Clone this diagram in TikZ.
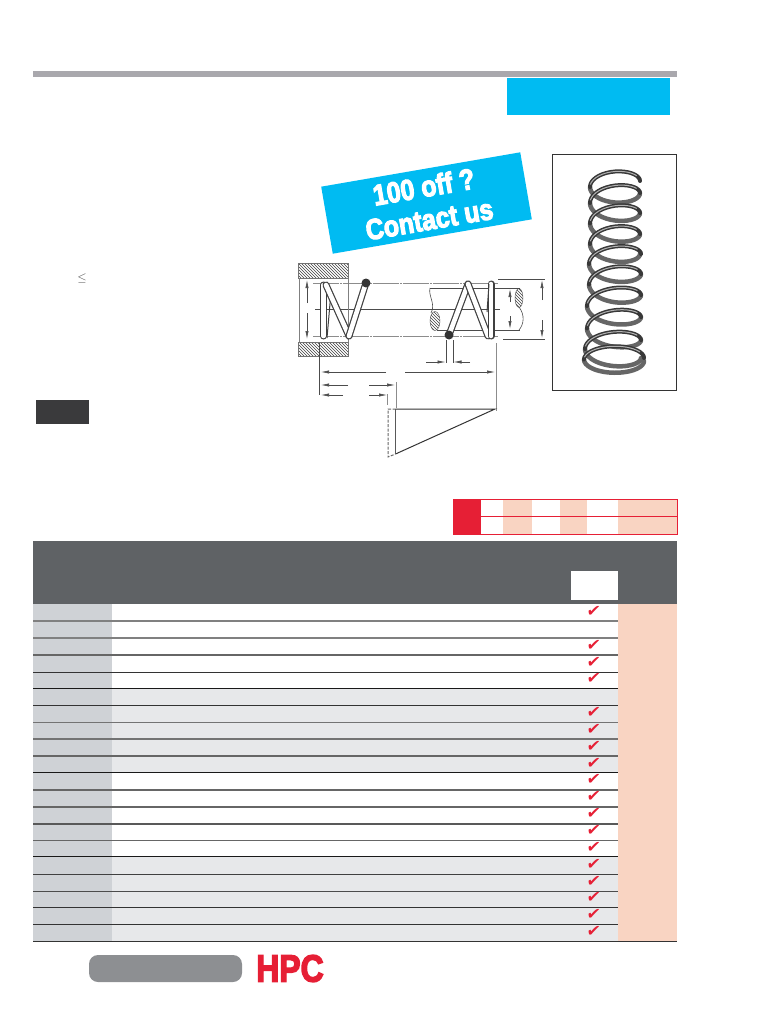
\documentclass[tikz,border=0pt]{standalone}
\usepackage{fontspec}
\usepackage{amsmath}
\usetikzlibrary{patterns,arrows.meta}
\newfontfamily\headfont[FakeBold=4]{Liberation Sans Bold}
\newfontfamily\symfont{DejaVu Sans}
\definecolor{cyanbox}{HTML}{00BBF2}
\definecolor{rulegrey}{HTML}{A9A8AD}
\definecolor{headgrey}{HTML}{5F6265}
\definecolor{peach}{HTML}{F9D4C2}
\definecolor{redbox}{HTML}{E61F35}
\definecolor{cellgrey}{HTML}{CFD2D6}
\definecolor{rowgrey}{HTML}{E7E8EA}
\definecolor{pillgrey}{HTML}{8D8F92}
\definecolor{darkbox}{HTML}{3A3A3C}
\tikzset{
  filled/.style={draw=none,fill=#1,inner sep=0pt,outer sep=0pt},
  tick/.style={text=redbox,font=\symfont\fontsize{16}{16}\selectfont,inner sep=0pt,xslant=0.15},
  dim/.style={draw=black!70,line width=0.6pt},
  arrowdim/.style={dim,-{Latex[length=8pt,width=3.2pt]}},
  centre/.style={draw=black!45,line width=0.9pt,dash pattern=on 26pt off 1pt on 2pt off 1pt},
  tube/.style={draw=black!75,line width=1.2pt,double=white,double distance=4.6pt,line cap=round},
  seat/.style={pattern=north west lines,pattern color=black!75},
  backcoil/.style={draw=black!60,line width=4.5pt,line cap=round},
  frontcoil/.style={draw=black!78,line width=4pt,line cap=round},
  coilshine/.style={draw=white!70!black,line width=1pt}
}
\begin{document}
\begin{tikzpicture}[x=1pt,y=-1pt]
  \useasboundingbox (0,0) rectangle (768,1024);

  % header
  \fill[rulegrey] (33,71) rectangle (677,77);
  \fill[cyanbox] (507,78) rectangle (670,115);
  \node[filled=darkbox,minimum width=53.5pt,minimum height=23.5pt,anchor=north west] (tag) at (35.5,400) {};
  \node[inner sep=0pt,text=black!70,font=\fontsize{13}{13}\selectfont] (leq) at (82,278) {$\leq$};

  % banner
  \node[filled=cyanbox,rotate=9.8,minimum width=202pt,minimum height=68pt,align=center,text=white,
    font=\headfont\fontsize{29}{33}\selectfont] (banner) at (426.5,203) {\scalebox{.86}[1]{100 off ?}\\\scalebox{.86}[1]{Contact us}};

  % photo of spring
  \node[draw=black!80,line width=0.8pt,minimum width=124pt,minimum height=236pt,inner sep=0pt,outer sep=0pt,anchor=north west] (photo) at (552.5,154) {};
  \foreach \yi/\yn/\xc/\rx in {181/193/615/25,193/213/615/25,213/234/615/25,234/254/615/25,254/274/615/26,274/295/615/26,295/317/614/27,317/340/614/27,340/358/613/28,358/361/614/30}{
    \draw[backcoil] plot[domain=180:360,smooth,samples=19] ({\xc+\rx*cos(\x)},{\yi+(\yn-\yi)*\x/360-12.5*sin(\x)});
  }
  \foreach \yi/\yn/\xc/\rx in {181/193/615/25,193/213/615/25,213/234/615/25,234/254/615/25,254/274/615/26,274/295/615/26,295/317/614/27,317/340/614/27,340/358/613/28,358/361/614/30}{
    \draw[frontcoil] plot[domain=0:180,smooth,samples=19] ({\xc+\rx*cos(\x)},{\yi+(\yn-\yi)*\x/360-12.5*sin(\x)});
    \draw[coilshine] plot[domain=30:170,smooth,samples=15] ({\xc+\rx*cos(\x)},{\yi+(\yn-\yi)*\x/360-12.5*sin(\x)});
  }

  % centre lines
  \coordinate (ta) at (313,283);
  \coordinate (tb) at (498,283);
  \coordinate (ca) at (315,309.5);
  \coordinate (cb) at (500,309.5);
  \coordinate (ba) at (313,336);
  \coordinate (bb) at (498,336);
  \draw[centre] (ta) -- (tb);
  \draw[centre] (ba) -- (bb);
  \draw[dim] (ca) -- (cb);

  % seat blocks
  \fill[seat] (298,263.5) rectangle (348,278);
  \draw[black!55] (298,263.5) rectangle (348,278);
  \fill[seat] (298,342) rectangle (348,356.5);
  \draw[black!55] (298,342) rectangle (348,356.5);
  \draw[black!50] (299,278) -- (299,342) (348,278) -- (348,342);

  % left coil
  \draw[black!75,line width=1pt] (327,338) -- (331,292);
  \draw[tube] (323.5,285) -- (323.5,336);
  \draw[tube] (326,285) -- (349,336);
  \draw[tube] (349,336) -- (365,286);
  \node[circle,fill=black!80,minimum size=9pt,inner sep=0pt] (leftend) at (366,283) {};

  % shaft
  \draw[dim] (430,288) -- (520,288) (437,330) -- (520,330);
  \draw[dim] (430,288) .. controls (428,296) and (436,304) .. (431,313);
  \draw[dim] (519,307) .. controls (525,315) and (524,324) .. (519,330);
  \fill[seat] (435,321) ellipse (5 and 9.5);
  \draw[black!70] (435,321) ellipse (5 and 9.5);
  \fill[seat] (519,298) ellipse (4 and 9.5);
  \draw[black!70] (519,298) ellipse (4 and 9.5);

  % right coil
  \draw[tube] (449,335) -- (468,284);
  \draw[tube] (468,284) -- (488,336);
  \draw[tube] (491,284) -- (491,336);
  \draw[black!75,line width=1pt] (487,312) -- (489,284);
  \node[circle,fill=black!80,minimum size=9pt,inner sep=0pt] (rightend) at (449,335) {};

  % dimension arrows
  \coordinate (da) at (307,280); \coordinate (db) at (307,339);
  \coordinate (dc) at (307,303); \coordinate (dd) at (307,313);
  \draw[arrowdim] (dc) -- (da);
  \draw[arrowdim] (dd) -- (db);
  \coordinate (ea) at (510,289); \coordinate (eb) at (510,329);
  \coordinate (ec) at (510,302); \coordinate (ed) at (510,316);
  \draw[arrowdim] (ec) -- (ea);
  \draw[arrowdim] (ed) -- (eb);
  \coordinate (fa) at (542,280); \coordinate (fb) at (542,338);
  \coordinate (fc) at (542,300); \coordinate (fd) at (542,320);
  \draw[arrowdim] (fc) -- (fa);
  \draw[arrowdim] (fd) -- (fb);
  \draw[dim] (498,279) -- (545,279) (503,339) -- (545,339);

  % wire size
  \draw[dim] (446,340) -- (446,363) (453,340) -- (453,363);
  \coordinate (wa) at (426,362); \coordinate (wb) at (470,362);
  \draw[arrowdim] (wa) -- (445.5,362);
  \draw[arrowdim] (wb) -- (453.5,362);

  % lengths
  \coordinate (la) at (321,372); \coordinate (lb) at (495,372);
  \draw[dim] (319,343) -- (319,395);
  \draw[arrowdim] (386,372) -- (la);
  \draw[arrowdim] (405,372) -- (lb);
  \draw[arrowdim] (348,385) -- (321,385);
  \draw[arrowdim] (369,385) -- (395,385);
  \draw[arrowdim] (343,395) -- (321,395);
  \draw[arrowdim] (369,395) -- (387,395);
  \draw[draw=black!45,line width=0.9pt] (496,343) -- (496,411);
  \draw[draw=black!45,line width=0.9pt] (396,382) -- (396,408);
  \draw[draw=black!45,line width=0.9pt] (387.5,394) -- (387.5,405);

  % load triangle
  \coordinate (ga) at (395.5,409);
  \coordinate (gb) at (495,409);
  \coordinate (gc) at (395.5,454);
  \coordinate (ha) at (388,409);
  \coordinate (hc) at (388,457);
  \draw[draw=black!60,line width=1pt,dash pattern=on 3pt off 1.5pt] (ga) -- (ha) -- (hc) -- (gc);
  \draw[black!80,line width=1pt] (ga) -- (gb) -- (gc);
  \draw[black!65,line width=1.5pt] (ga) -- (gc);

  % small table
  \fill[redbox] (453,499) rectangle (481,534);
  \foreach \xa/\xb in {503/532,560/587,618/677}{
    \fill[peach] (\xa,499) rectangle (\xb,534);
  }
  \draw[redbox,line width=1pt] (453,499) rectangle (677,534);
  \draw[redbox,line width=1pt] (481,516) -- (677,516);

  % main table head
  \fill[headgrey] (33,541) rectangle (677,603.5);
  \fill[white] (571,571) rectangle (618,599.5);

  % rows
  \fill[peach] (618,603.5) rectangle (677,941);
  \fill[cellgrey] (33,603.5) rectangle (112,941);
  \fill[rowgrey] (112,689) rectangle (618,773);
  \fill[rowgrey] (112,857) rectangle (618,941);
  \foreach \yy/\shade/\wd in {621/50/1.3,638/50/1.3,655/60/1.1,672/80/0.9,688.5/90/1.4,705.5/80/1,722.5/55/1.2,739/55/1.2,756/60/1.2,772.5/90/1.4,790/60/1.1,807/60/1.1,824/65/1.1,840.5/60/1.1,856.5/90/1.3,874/75/1,891/70/1,907.5/80/1,924.5/80/1}{
    \draw[draw=black!\shade,line width=\wd pt] (33,\yy) -- (618,\yy);
  }
  \draw[draw=black!80,line width=1pt] (33,941.5) -- (677,941.5);
  \foreach \yy in {611,645,662,678,712,729,746,763,779,796,813,830,847,864,881,897,914,931}{
    \node[tick] at (593.5,\yy) {✔};
  }

  % footer
  \node[filled=pillgrey,rounded corners=9pt,minimum width=153pt,minimum height=27pt,anchor=north west] (pill) at (89,955) {};
  \node[inner sep=0pt,text=redbox,font=\headfont\fontsize{38}{38}\selectfont] (logo) at (290,968.5) {\scalebox{.84}[1]{HPC}};
\end{tikzpicture}
\end{document}
